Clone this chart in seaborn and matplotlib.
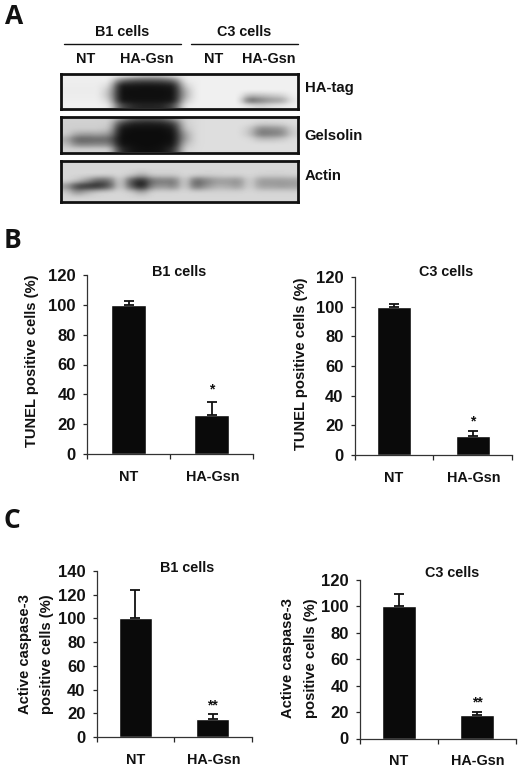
import numpy as np
import pandas as pd
import matplotlib
matplotlib.use('Agg')
import matplotlib.pyplot as plt
import seaborn as sns

sns.set_style('white')
plt.rcParams['font.family'] = ['Liberation Sans', 'DejaVu Sans']
plt.rcParams['font.weight'] = 'bold'

W, H = 520, 768

categories = ['NT', 'HA-Gsn']

tunel_b1 = [100, 26]
tunel_b1_err = [2.5, 9]
tunel_c3 = [100, 13]
tunel_c3_err = [1.5, 3]
casp_b1 = [100, 15]
casp_b1_err = [24, 4]
casp_c3 = [100, 17.5]
casp_c3_err = [9.5, 2.5]

# blot grey levels, read by eye (rows top to bottom, columns left to right)
blot_ha = [
    [240, 240, 240, 240, 240, 238, 225, 205, 200, 205, 225, 238, 240, 240, 240, 240, 240, 240, 240, 240, 240, 240],
    [238, 238, 238, 238, 236, 120, 85, 80, 80, 85, 110, 232, 238, 240, 240, 240, 240, 240, 240, 240, 240, 240],
    [236, 236, 236, 236, 215, 28, 25, 22, 22, 25, 35, 205, 238, 240, 240, 240, 240, 240, 240, 240, 240, 240],
    [236, 236, 236, 236, 190, 18, 15, 15, 15, 15, 20, 175, 238, 240, 240, 240, 240, 240, 240, 240, 240, 240],
    [236, 236, 236, 236, 185, 18, 15, 15, 15, 15, 20, 170, 238, 240, 240, 240, 240, 185, 190, 200, 210, 238],
    [238, 238, 238, 238, 205, 22, 18, 18, 18, 18, 25, 195, 238, 240, 240, 240, 240, 95, 125, 150, 160, 232],
    [240, 240, 240, 240, 232, 85, 45, 35, 35, 40, 80, 230, 240, 240, 240, 240, 240, 225, 210, 222, 230, 240],
]
blot_gel = [
    [210, 210, 210, 210, 208, 160, 105, 90, 90, 100, 150, 208, 218, 222, 222, 222, 222, 222, 222, 222, 222, 222],
    [208, 208, 208, 208, 205, 70, 35, 30, 30, 35, 65, 205, 218, 222, 222, 222, 222, 220, 205, 205, 210, 220],
    [208, 205, 205, 205, 190, 25, 15, 15, 15, 15, 30, 190, 218, 222, 222, 222, 222, 200, 135, 140, 150, 210],
    [205, 165, 160, 165, 150, 18, 12, 12, 12, 12, 20, 160, 218, 222, 222, 222, 222, 195, 120, 125, 135, 205],
    [170, 100, 100, 105, 100, 15, 12, 12, 12, 12, 18, 155, 218, 222, 222, 222, 222, 218, 190, 190, 200, 220],
    [190, 130, 130, 135, 130, 20, 15, 12, 12, 15, 25, 185, 218, 222, 222, 222, 222, 222, 222, 222, 222, 222],
    [212, 210, 210, 210, 205, 50, 20, 15, 15, 20, 55, 210, 220, 222, 222, 222, 222, 222, 222, 222, 222, 222],
]
blot_act = [
    [215, 215, 215, 215, 215, 215, 215, 215, 215, 215, 215, 215, 215, 215, 215, 215, 215, 215, 215, 215, 215, 215],
    [215, 215, 215, 215, 215, 215, 215, 215, 215, 215, 215, 215, 215, 215, 215, 215, 215, 215, 215, 215, 215, 215],
    [215, 215, 215, 215, 212, 215, 205, 175, 205, 205, 205, 215, 212, 208, 210, 212, 212, 215, 210, 208, 208, 212],
    [215, 195, 150, 95, 110, 215, 85, 35, 115, 125, 120, 212, 100, 130, 155, 155, 145, 212, 155, 155, 155, 160],
    [150, 55, 40, 40, 85, 215, 90, 20, 135, 150, 130, 212, 105, 145, 175, 170, 155, 212, 160, 160, 155, 160],
    [205, 145, 180, 205, 212, 215, 205, 165, 212, 212, 212, 215, 212, 212, 212, 212, 212, 215, 212, 212, 212, 212],
    [215, 215, 215, 215, 215, 215, 215, 215, 215, 215, 215, 215, 215, 215, 215, 215, 215, 215, 215, 215, 215, 215],
]

fig = plt.figure(figsize=(W / 100, H / 100), dpi=100, facecolor='white')


def px_axes(x0, x1, ytop, ybot):
    return fig.add_axes([x0 / W, 1 - ybot / H, (x1 - x0) / W, (ybot - ytop) / H])


def put(x, y, s, **kw):
    kw.setdefault('ha', 'center')
    kw.setdefault('va', 'center')
    kw.setdefault('fontsize', 10.4)
    kw.setdefault('color', '#111111')
    fig.text(x / W, 1 - y / H, s, **kw)


def blot(rows, ytop, ybot):
    ax = px_axes(61, 297.5, ytop, ybot)
    ax.imshow(np.array(rows), cmap='gray', vmin=0, vmax=255, aspect='auto', interpolation='quadric')
    ax.set_xticks([])
    ax.set_yticks([])
    for s in ax.spines.values():
        s.set_visible(True)
        s.set_linewidth(2)
        s.set_color('#111111')


def bars(box, ymax, step, vals, errs, ylabel, title, title_xy, stars, star_y, ylab_xy, xlab_y):
    ax = px_axes(*box)
    df = pd.DataFrame({'group': categories, 'value': vals})
    sns.barplot(data=df, x='group', y='value', color='#0a0a0a', saturation=1, width=0.43, ax=ax)
    ax.errorbar(range(2), vals, yerr=[[0, 0], errs], fmt='none', ecolor='#111111',
                elinewidth=1.3, capsize=3.5, capthick=1.3)
    ax.set_xlim(-0.5, 1.5)
    ax.set_ylim(0, ymax)
    ax.set_yticks(range(0, ymax + 1, step))
    ax.set_xticks([-0.5, 0.5, 1.5])
    ax.set_xticklabels([])
    ax.set_xlabel('')
    ax.set_ylabel('')
    ax.tick_params(axis='y', labelsize=12, length=3, width=0.9, pad=5, left=True, labelcolor='#111111')
    ax.tick_params(axis='x', length=3.5, width=0.9, bottom=True)
    sns.despine(ax=ax)
    for s in ('left', 'bottom'):
        ax.spines[s].set_linewidth(0.9)
        ax.spines[s].set_color('#333333')
    x0, x1 = box[0], box[1]
    for i, c in enumerate(categories):
        put(x0 + (x1 - x0) * (i / 2 + 0.25) + i, xlab_y, c)
    put(*title_xy, title)
    put(x0 + (x1 - x0) * 0.75, star_y, stars, fontsize=10)
    if isinstance(ylabel, str):
        put(*ylab_xy, ylabel, rotation=90, fontsize=10.6)
    else:
        put(ylab_xy[0], ylab_xy[1], ylabel[0], rotation=90, fontsize=10.6)
        put(ylab_xy[0] + 22.5, ylab_xy[1], ylabel[1], rotation=90, fontsize=10.6)


# panel A
blot(blot_ha, 73.5, 108.5)
blot(blot_gel, 117, 152.5)
blot(blot_act, 160.5, 201.5)
put(122, 32.5, 'B1 cells')
put(244, 32.5, 'C3 cells')
fig.add_artist(plt.Line2D([64 / W, 181 / W], [1 - 44 / H] * 2, color='#111111', lw=1))
fig.add_artist(plt.Line2D([191 / W, 298 / W], [1 - 44 / H] * 2, color='#111111', lw=1))
for x, s in zip([86, 147, 214, 269], ['NT', 'HA-Gsn', 'NT', 'HA-Gsn']):
    put(x, 59, s)
for y, s in zip([88, 136, 176], ['HA-tag', 'Gelsolin', 'Actin']):
    put(304.5, y, s, ha='left', fontsize=10.7)

# panels B and C
bars((87, 253, 275, 454), 120, 20, tunel_b1, tunel_b1_err, 'TUNEL positive cells (%)',
     'B1 cells', (179, 271.5), '*', 389, (32, 361), 477)
bars((354.5, 512, 277, 455), 120, 20, tunel_c3, tunel_c3_err, 'TUNEL positive cells (%)',
     'C3 cells', (446, 272.5), '*', 421, (301, 364), 478)
bars((96.5, 251.5, 571, 737), 140, 20, casp_b1, casp_b1_err, ('Active caspase-3', 'positive cells (%)'),
     'B1 cells', (187, 568), '**', 705, (25, 654), 760)
bars((360, 516, 580, 738.5), 120, 20, casp_c3, casp_c3_err, ('Active caspase-3', 'positive cells (%)'),
     'C3 cells', (452, 573), '**', 702, (288, 658), 761)

# panel letters
put(14, 16, 'A', fontsize=19, family=['Open Sans', 'DejaVu Sans'])
put(13, 240, 'B', fontsize=19, family=['Open Sans', 'DejaVu Sans'])
put(12, 521, 'C', fontsize=19, family=['Open Sans', 'DejaVu Sans'])

fig.savefig('out.png', dpi=100, facecolor='white')
